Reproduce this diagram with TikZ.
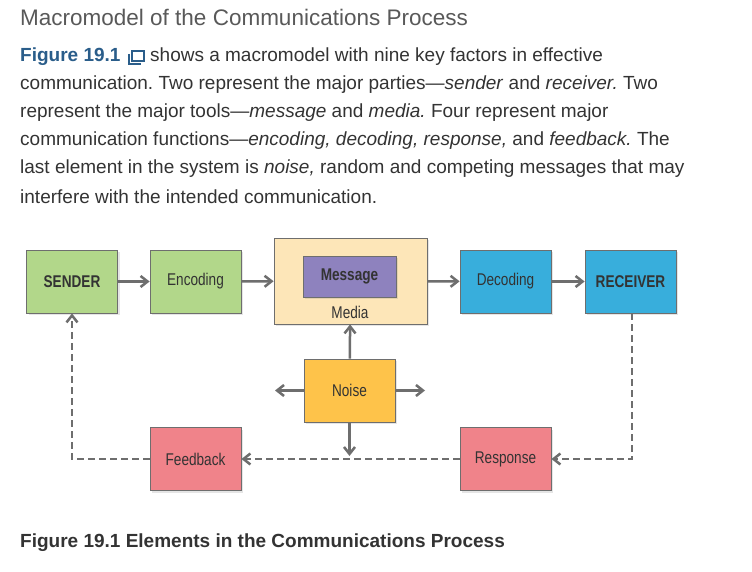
\documentclass[tikz,border=0pt]{standalone}
\usepackage{fontspec}
\setmainfont{Liberation Sans}
\newfontfamily\condf{Liberation Sans}[FakeStretch=0.8]
\usetikzlibrary{arrows.meta,shadows}
\definecolor{txt}{HTML}{333333}
\definecolor{linkblue}{HTML}{2A5D8A}
\definecolor{line}{HTML}{6E6E6E}
\definecolor{green}{HTML}{B2D78A}
\definecolor{media}{HTML}{FDE6B8}
\definecolor{msg}{HTML}{8E82BE}
\definecolor{blue}{HTML}{38AEDC}
\definecolor{noise}{HTML}{FEC34A}
\definecolor{red}{HTML}{F0838A}
\tikzset{
  box/.style={draw=line, line width=0.8pt, minimum width=91pt, minimum height=63pt,
    font=\condf\fontsize{17}{19}\selectfont, text=txt, drop shadow={opacity=0.2, shadow xshift=2pt, shadow yshift=-2pt}},
  para/.style={anchor=west, inner sep=0pt, text=txt, font=\fontsize{19}{22}\selectfont},
  arr/.style={-{Straight Barb[length=7pt,width=11pt]}, line width=2.5pt, draw=line},
  dasharr/.style={arr, dash pattern=on 7pt off 4pt}
}
\frenchspacing
\begin{document}
\begin{tikzpicture}[x=1pt,y=-1pt]
  \useasboundingbox (0,0) rectangle (752,572);
  \fill[white] (0,0) rectangle (752,572);

  % heading and text
  \node[para, text=black!65, font=\fontsize{22.5}{26}\selectfont] (title) at (20,17) {Macromodel of the Communications Process};
  \node[para, text=linkblue, font=\bfseries\fontsize{19}{22}\selectfont] (fig) at (20,57) {Figure 19.1};
  \draw[linkblue, line width=1.6pt] (132,51) rectangle (144,61) (129,54) -- (129,64) -- (141,64);
  \node[para] (l1) at (150,57) {shows a macromodel with nine key factors in effective};
  \node[para] (l2) at (20,85) {communication. Two represent the major parties---\emph{sender} and \emph{receiver.} Two};
  \node[para] (l3) at (20,113) {represent the major tools---\emph{message} and \emph{media.} Four represent major};
  \node[para] (l4) at (20,141) {communication functions---\emph{encoding, decoding, response,} and \emph{feedback.} The};
  \node[para] (l5) at (20,169) {last element in the system is \emph{noise,} random and competing messages that may};
  \node[para] (l6) at (20,197) {interfere with the intended communication.};
  \node[para, font=\bfseries\fontsize{19}{22}\selectfont] (cap) at (20,543) {Figure 19.1 Elements in the Communications Process};

  % boxes
  \node[box, fill=green, font=\condf\bfseries\fontsize{17}{19}\selectfont] (sender) at (72,281.5) {SENDER};
  \node[box, fill=green] (enc) at (195.5,281.5) {Encoding};
  \node[box, fill=media, minimum width=153pt, minimum height=86pt] (media) at (350.5,281) {};
  \node[box, fill=msg, minimum width=93pt, minimum height=41pt, font=\condf\bfseries\fontsize{17}{19}\selectfont] (msg) at (349.5,276.5) {Message};
  \node[text=txt, font=\condf\fontsize{17}{19}\selectfont] (medialbl) at (350,312) {Media};
  \node[box, fill=blue] (dec) at (505.5,281.5) {Decoding};
  \node[box, fill=blue, font=\condf\bfseries\fontsize{17}{19}\selectfont] (receiver) at (630.5,281.5) {RECEIVER};
  \node[box, fill=noise] (noise) at (349.5,390.5) {Noise};
  \node[box, fill=red] (feedback) at (195.5,459) {Feedback};
  \node[box, fill=red] (response) at (505.5,459) {Response};

  % helper points
  \coordinate (nl) at (275,390.5);
  \coordinate (nr) at (425,390.5);
  \coordinate (nd) at (349.5,456);
  \coordinate (sc) at (72,459);
  \coordinate (rc) at (632,459);

  % connectors
  \draw[arr] (sender) -- (enc);
  \draw[arr] (enc) -- (media);
  \draw[arr] (media) -- (dec);
  \draw[arr] (dec) -- (receiver);
  \draw[arr] (noise) -- (media);
  \draw[arr] (noise) -- (nl);
  \draw[arr] (noise) -- (nr);
  \draw[arr] (noise) -- (nd);
  \draw[dasharr] (receiver.south -| rc) -- (rc) -- (response);
  \draw[dasharr] (response) -- (feedback);
  \draw[dasharr] (feedback) -- (sc) -- (sender.south);
\end{tikzpicture}
\end{document}
